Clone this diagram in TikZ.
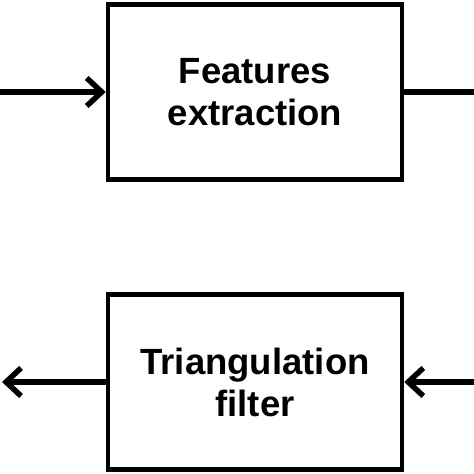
\documentclass[tikz,border=0pt]{standalone}
\usepackage{fontspec}
\setmainfont{Liberation Sans}
\usepackage{tikz}
\usetikzlibrary{arrows.meta}

\begin{document}
\begin{tikzpicture}[x=1pt, y=1pt, main/.style = {draw, rectangle, line width=4.5pt, minimum width=294pt, minimum height=175pt, align=center, inner sep=0pt, font=\fontsize{36.5}{42}\selectfont\bfseries}]
        \useasboundingbox (0, 0) rectangle (474, 474);
        \node[main] (1) at (255, 382) {Features\\extraction};
        \node[main] (2) at (255, 92) {Triangulation\\filter};
        \coordinate (in) at (0, 382);
        \coordinate (out) at (474, 382);
        \coordinate (back) at (474, 92);
        \coordinate (end) at (2, 92);
        \draw[-{Straight Barb[length=15pt, width=28pt]}, line width=5.5pt] (in) -- (1);
        \draw[line width=5.5pt] (1) -- (out);
        \draw[-{Straight Barb[length=15pt, width=28pt]}, line width=5.5pt] (back) -- (2);
        \draw[-{Straight Barb[length=15pt, width=28pt]}, line width=5.5pt] (2) -- (end);
    \end{tikzpicture}
\end{document}
